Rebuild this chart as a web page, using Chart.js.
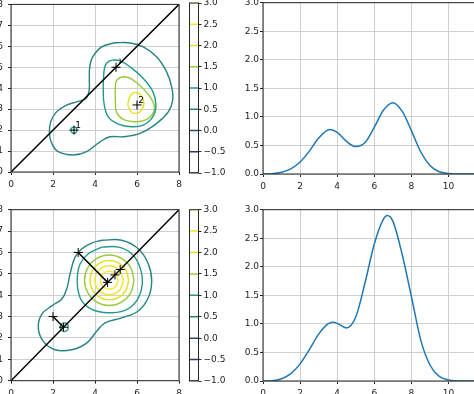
<!DOCTYPE html>
<html>
<head>
<meta charset="utf-8">
<script src="https://cdn.jsdelivr.net/npm/chart.js@4"></script>
<style>
html, body { margin: 0; padding: 0; background: #fff; overflow: hidden; width: 474px; height: 394px; position: relative; }
canvas { position: absolute; }
</style>
</head>
<body>
<canvas id="tl"></canvas>
<canvas id="tlbar"></canvas>
<canvas id="tr"></canvas>
<canvas id="bl"></canvas>
<canvas id="blbar"></canvas>
<canvas id="br"></canvas>
<script>
// contour levels and their colours (colorbar)
const levels = [-1.0, -0.5, 0.0, 0.5, 1.0, 1.5, 2.0, 2.5, 3.0];
const levelColors = ['#2d1b45', '#3a3560', '#2f4d64', '#26837f', '#23998a', '#9acb3c', '#e4e01e', '#f4e51e', '#fde725'];

// top-left contours (x, y)
const topL05 = [[4.95,6.17],[4.32,5.97],[3.89,5.49],[3.75,5.02],[3.73,4.4],[3.72,3.9],[3.57,3.51],[3.13,3.35],[2.65,3.19],[2.17,2.87],[1.89,2.4],[1.83,1.84],[1.94,1.37],[2.25,0.97],[2.97,0.81],[3.6,0.97],[4.24,1.44],[4.71,1.68],[5.35,1.68],[6.14,1.84],[6.94,2.32],[7.49,2.87],[7.7,3.43],[7.65,4.06],[7.41,4.78],[6.94,5.49],[6.3,5.97],[5.67,6.16],[4.95,6.17]];
const topL10 = [[4.39,4.06],[4.41,4.54],[4.45,4.94],[4.56,5.2],[4.82,5.34],[5.2,5.3],[5.72,4.98],[6.3,4.46],[6.75,3.85],[6.9,3.19],[6.75,2.63],[6.3,2.24],[5.75,2.16],[5.11,2.29],[4.63,2.63],[4.43,3.27],[4.39,4.06]];
const topL15 = [[4.97,3.43],[4.97,4.06],[5.05,4.4],[5.4,4.55],[5.8,4.4],[6.3,3.98],[6.72,3.43],[6.82,2.95],[6.48,2.52],[5.95,2.4],[5.35,2.51],[5.02,2.87],[4.97,3.43]];
const topL20 = [[5.56,3.2],[5.62,3.5],[5.75,3.72],[5.95,3.8],[6.18,3.68],[6.33,3.3],[6.22,2.95],[5.98,2.8],[5.72,2.88],[5.56,3.2]];
const topC10 = [[3.15,2.0],[3.1,2.11],[3.0,2.15],[2.9,2.11],[2.85,2.0],[2.9,1.89],[3.0,1.85],[3.1,1.89],[3.15,2.0]];

// bottom-left contours
const botL05 = [[4.32,6.57],[3.84,6.44],[3.37,6.17],[3.05,5.78],[2.81,4.99],[2.65,4.28],[2.41,3.81],[1.94,3.5],[1.46,3.1],[1.3,2.47],[1.54,1.84],[2.1,1.45],[2.89,1.45],[3.6,1.76],[4.08,2.31],[4.48,2.71],[5.27,2.94],[6.06,3.26],[6.54,3.89],[6.7,4.68],[6.54,5.46],[6.06,6.17],[5.27,6.57],[4.32,6.57]];
const botL10 = [[4.32,6.25],[3.68,5.94],[3.29,5.46],[3.17,4.99],[3.17,4.36],[3.37,3.73],[3.84,3.34],[4.63,3.18],[5.43,3.29],[5.98,3.73],[6.25,4.52],[6.14,5.31],[5.75,5.94],[5.11,6.25],[4.32,6.25]];
const botL15 = [[5.86,4.7],[5.7,5.29],[5.27,5.72],[4.68,5.88],[4.09,5.72],[3.66,5.29],[3.5,4.7],[3.66,4.11],[4.09,3.68],[4.68,3.52],[5.27,3.68],[5.7,4.11],[5.86,4.7]];
const botL20 = [[5.6,4.7],[5.48,5.16],[5.14,5.5],[4.68,5.62],[4.22,5.5],[3.88,5.16],[3.76,4.7],[3.88,4.24],[4.22,3.9],[4.68,3.78],[5.14,3.9],[5.48,4.24],[5.6,4.7]];
const botL25 = [[5.36,4.7],[5.16,5.18],[4.68,5.38],[4.2,5.18],[4.0,4.7],[4.2,4.22],[4.68,4.02],[5.16,4.22],[5.36,4.7]];
const botL30 = [[5.1,4.7],[4.98,5.0],[4.68,5.12],[4.38,5.0],[4.26,4.7],[4.38,4.4],[4.68,4.28],[4.98,4.4],[5.1,4.7]];
const botC10 = [[2.74,2.5],[2.68,2.64],[2.54,2.7],[2.4,2.64],[2.34,2.5],[2.4,2.36],[2.54,2.3],[2.68,2.36],[2.74,2.5]];

// black lines and markers
const diagonal = [[0,0],[8,8]];
const topMarks = [[3,2],[6,3.2],[5,5]];
const topLabels = [{x:3.2,y:2.22,t:'1',s:9},{x:6.2,y:3.42,t:'2',s:9},{x:5.2,y:5.3,t:'1',s:6}];
const botSegs = [[[2,3],[2.5,2.5]],[[3.2,6],[4.6,4.6]]];
const botMarks = [[2,3],[2.5,2.5],[3.2,6],[4.6,4.6],[4.95,4.95],[5.2,5.2]];

// line plots
const topX = [0,0.5,1,1.5,2,2.5,3,3.6,4,4.5,5,5.5,6,6.5,7,7.5,8,8.5,9,9.5,10,10.5,11,12];
const topY = [0,0.005,0.03,0.09,0.21,0.4,0.63,0.78,0.73,0.57,0.48,0.55,0.82,1.12,1.25,1.1,0.76,0.39,0.15,0.04,0.01,0,0,0];
const botX = [0,0.5,1,1.5,2,2.5,3,3.5,3.75,4,4.5,5,5.5,6,6.5,6.7,7,7.5,8,8.5,9,9.5,10,10.5,11,12];
const botY = [0,0.005,0.04,0.13,0.3,0.55,0.82,1.0,1.03,1.01,0.93,1.12,1.72,2.4,2.84,2.9,2.8,2.22,1.48,0.72,0.28,0.08,0.02,0,0,0];

const FONT = { family: 'DejaVu Sans', size: 9 };
const TEXT = '#222';
const GRID = '#cfcfcf';
const SPINE = '#262626';

const boxPlugin = {
  id: 'box',
  afterDraw(chart) {
    const a = chart.chartArea, ctx = chart.ctx;
    ctx.save();
    ctx.strokeStyle = SPINE;
    ctx.lineWidth = 1;
    ctx.strokeRect(a.left, a.top, a.right - a.left, a.bottom - a.top);
    ctx.restore();
  }
};

const marksPlugin = {
  id: 'marks',
  afterDatasetsDraw(chart, args, opts) {
    if (!opts || !opts.items) return;
    const ctx = chart.ctx, sx = chart.scales.x, sy = chart.scales.y;
    ctx.save();
    ctx.fillStyle = '#000';
    ctx.textAlign = 'center';
    ctx.textBaseline = 'middle';
    opts.items.forEach(m => {
      ctx.font = m.s + 'px "DejaVu Sans"';
      ctx.fillText(m.t, sx.getPixelForValue(m.x), sy.getPixelForValue(m.y));
    });
    ctx.restore();
  }
};

function place(id, l, t, w, h) {
  const c = document.getElementById(id);
  c.width = w; c.height = h;
  c.style.left = l + 'px'; c.style.top = t + 'px';
  c.style.width = w + 'px'; c.style.height = h + 'px';
  return c;
}

const pts = arr => arr.map(p => ({ x: p[0], y: p[1] }));
const col = lv => levelColors[levels.indexOf(lv)];
const fmt = v => v.toFixed(1).replace('-', '\u2212');

function contourChart(id, pos, contours, segs, marks, labels) {
  const c = place(id, pos.l, pos.t, pos.w, pos.h);
  const ds = [];
  ds.push({ data: pts(marks), pointStyle: 'cross', pointRadius: 4.5, borderColor: '#000', borderWidth: 1, showLine: false });
  segs.forEach(s => ds.push({ data: pts(s), showLine: true, borderColor: '#000', borderWidth: 1.5, pointRadius: 0, tension: 0 }));
  contours.forEach(k => ds.push({ data: pts(k.p), showLine: true, borderColor: col(k.lv), borderWidth: 1.4, pointRadius: 0, tension: 0.4 }));
  return new Chart(c, {
    type: 'scatter',
    data: { datasets: ds },
    options: {
      responsive: false, animation: false, devicePixelRatio: 1,
      layout: { autoPadding: false, padding: pos.pad },
      plugins: { legend: { display: false }, tooltip: { enabled: false }, marks: { items: labels } },
      scales: {
        x: { type: 'linear', min: 0, max: 8,
             ticks: { stepSize: 2, font: FONT, color: TEXT, padding: pos.xp, maxRotation: 0 },
             grid: { color: GRID, lineWidth: 1, tickLength: 3, tickColor: SPINE },
             border: { display: false },
             afterFit: s => { s.height = pos.xh; } },
        y: { type: 'linear', min: 0, max: 8,
             ticks: { stepSize: 1, font: FONT, color: TEXT, padding: 5 },
             grid: { color: GRID, lineWidth: 1, tickLength: 3, tickColor: SPINE },
             border: { display: false },
             afterFit: s => { s.width = pos.yw; } }
      }
    },
    plugins: [boxPlugin, marksPlugin]
  });
}

function colorbar(id, pos) {
  const c = place(id, pos.l, pos.t, pos.w, pos.h);
  const ds = levels.map(lv => ({ data: [{ x: 0, y: lv }, { x: 1, y: lv }], showLine: true, borderColor: col(lv), borderWidth: 1.5, pointRadius: 0 }));
  return new Chart(c, {
    type: 'scatter',
    data: { datasets: ds },
    options: {
      responsive: false, animation: false, devicePixelRatio: 1,
      layout: { autoPadding: false, padding: pos.pad },
      plugins: { legend: { display: false }, tooltip: { enabled: false } },
      scales: {
        x: { type: 'linear', min: 0, max: 1, display: false },
        y: { type: 'linear', position: 'right', min: -1, max: 3,
             ticks: { stepSize: 0.5, font: FONT, color: TEXT, padding: 2, callback: v => fmt(v) },
             grid: { drawOnChartArea: false, tickLength: 3, tickColor: SPINE },
             border: { display: false },
             afterFit: s => { s.width = pos.yw; } }
      }
    },
    plugins: [boxPlugin]
  });
}

function lineChart(id, pos, xs, ys) {
  const c = place(id, pos.l, pos.t, pos.w, pos.h);
  return new Chart(c, {
    type: 'scatter',
    data: { datasets: [{ data: xs.map((x, i) => ({ x: x, y: ys[i] })), showLine: true, borderColor: '#1f77b4', borderWidth: 1.5, pointRadius: 0, cubicInterpolationMode: 'monotone' }] },
    options: {
      responsive: false, animation: false, devicePixelRatio: 1,
      layout: { autoPadding: false, padding: pos.pad },
      plugins: { legend: { display: false }, tooltip: { enabled: false } },
      scales: {
        x: { type: 'linear', min: 0, max: 12,
             ticks: { stepSize: 2, font: FONT, color: TEXT, padding: pos.xp, maxRotation: 0 },
             grid: { color: GRID, lineWidth: 1, tickLength: 3, tickColor: SPINE },
             border: { display: false },
             afterFit: s => { s.height = pos.xh; } },
        y: { type: 'linear', min: 0, max: 3,
             ticks: { stepSize: 0.5, font: FONT, color: TEXT, padding: 1, callback: v => fmt(v) },
             grid: { color: GRID, lineWidth: 1, tickLength: 3, tickColor: SPINE },
             border: { display: false },
             afterFit: s => { s.width = pos.yw; } }
      }
    },
    plugins: [boxPlugin]
  });
}

contourChart('tl', { l: -40, t: -6, w: 229, h: 210, yw: 51, xh: 32, xp: 4, pad: { left: 0, top: 10, right: 10, bottom: 0 } },
  [{ lv: 0.5, p: topL05 }, { lv: 1.0, p: topL10 }, { lv: 1.5, p: topL15 }, { lv: 2.0, p: topL20 }, { lv: 1.0, p: topC10 }],
  [diagonal], topMarks, topLabels);

colorbar('tlbar', { l: 180, t: -7, w: 65, h: 190, yw: 46.5, pad: { left: 9.5, top: 10, right: 0, bottom: 10 } });

lineChart('tr', { l: 225, t: -7, w: 275, h: 211, yw: 38, xh: 30, xp: 4, pad: { left: 0, top: 9.7, right: 14.4, bottom: 0 } }, topX, topY);

contourChart('bl', { l: -40, t: 196, w: 229, h: 220, yw: 51, xh: 35.3, xp: 4.5, pad: { left: 0, top: 13.7, right: 10, bottom: 0 } },
  [{ lv: 0.5, p: botL05 }, { lv: 1.0, p: botL10 }, { lv: 1.5, p: botL15 }, { lv: 2.0, p: botL20 }, { lv: 2.5, p: botL25 }, { lv: 3.0, p: botL30 }, { lv: 1.0, p: botC10 }],
  [diagonal].concat(botSegs), botMarks, []);

colorbar('blbar', { l: 180, t: 196, w: 65, h: 200, yw: 46.5, pad: { left: 9.5, top: 13.7, right: 0, bottom: 15 } });

lineChart('br', { l: 225, t: 196, w: 275, h: 220, yw: 38, xh: 35, xp: 4.5, pad: { left: 0, top: 13.7, right: 14.4, bottom: 0 } }, botX, botY);
</script>
</body>
</html>
